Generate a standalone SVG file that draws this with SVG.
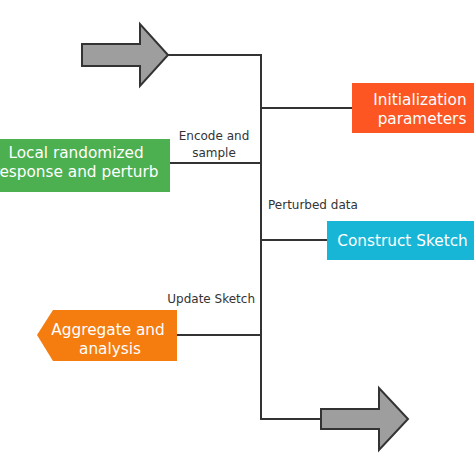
<svg xmlns="http://www.w3.org/2000/svg" width="474" height="474" viewBox="0 0 474 474">
<style>
.bg{fill:#ffffff}
.conn{fill:none;stroke:#333333;stroke-width:2}
.arrow{fill:#9e9e9e;stroke:#333333;stroke-width:2;stroke-linejoin:miter}
.box{stroke:none}
.bt{font-family:"DejaVu Sans",Verdana,sans-serif;font-size:15.3px;fill:#ffffff;text-anchor:middle}
.lbl{font-family:"DejaVu Sans",Verdana,sans-serif;font-size:12px;fill:#333333}
</style>
<rect class="bg" x="0" y="0" width="474" height="474"/>
<g id="connectors">
<polyline class="conn" points="168,55 261,55 261,419 321,419"/>
<line class="conn" x1="261" y1="108" x2="352" y2="108"/>
<line class="conn" x1="170" y1="163" x2="261" y2="163"/>
<line class="conn" x1="261" y1="240" x2="327" y2="240"/>
<line class="conn" x1="177" y1="335" x2="261" y2="335"/>
<text class="lbl" x="214" y="140" text-anchor="middle">Encode and</text>
<text class="lbl" x="214" y="157" text-anchor="middle">sample</text>
<text class="lbl" x="268" y="209">Perturbed data</text>
<text class="lbl" x="255" y="303" text-anchor="end">Update Sketch</text>
</g>
<g id="start-arrow">
<polygon class="arrow" points="82,44 140,44 140,24 168,55 140,86 140,66 82,66"/>
</g>
<g id="init">
<rect class="box" x="352" y="83" width="124" height="50" fill="#fd5623"/>
<text class="bt" x="420" y="105">Initialization</text>
<text class="bt" x="422" y="124">parameters</text>
</g>
<g id="local">
<rect class="box" x="-2" y="139" width="172" height="53" fill="#4caf50"/>
<text class="bt" x="76" y="158">Local randomized</text>
<text class="bt" x="76" y="177">response and perturb</text>
</g>
<g id="construct">
<rect class="box" x="327" y="221" width="149" height="39" fill="#17b6d6"/>
<text class="bt" x="402.5" y="246">Construct Sketch</text>
</g>
<g id="aggregate">
<polygon class="box" points="37,335 53,310 177,310 177,361 53,361" fill="#f57c0e"/>
<text class="bt" x="108" y="335">Aggregate and</text>
<text class="bt" x="110" y="354">analysis</text>
</g>
<g id="end-arrow">
<polygon class="arrow" points="321,409 379,409 379,388 408,419 379,450 379,429 321,429"/>
</g>
</svg>
